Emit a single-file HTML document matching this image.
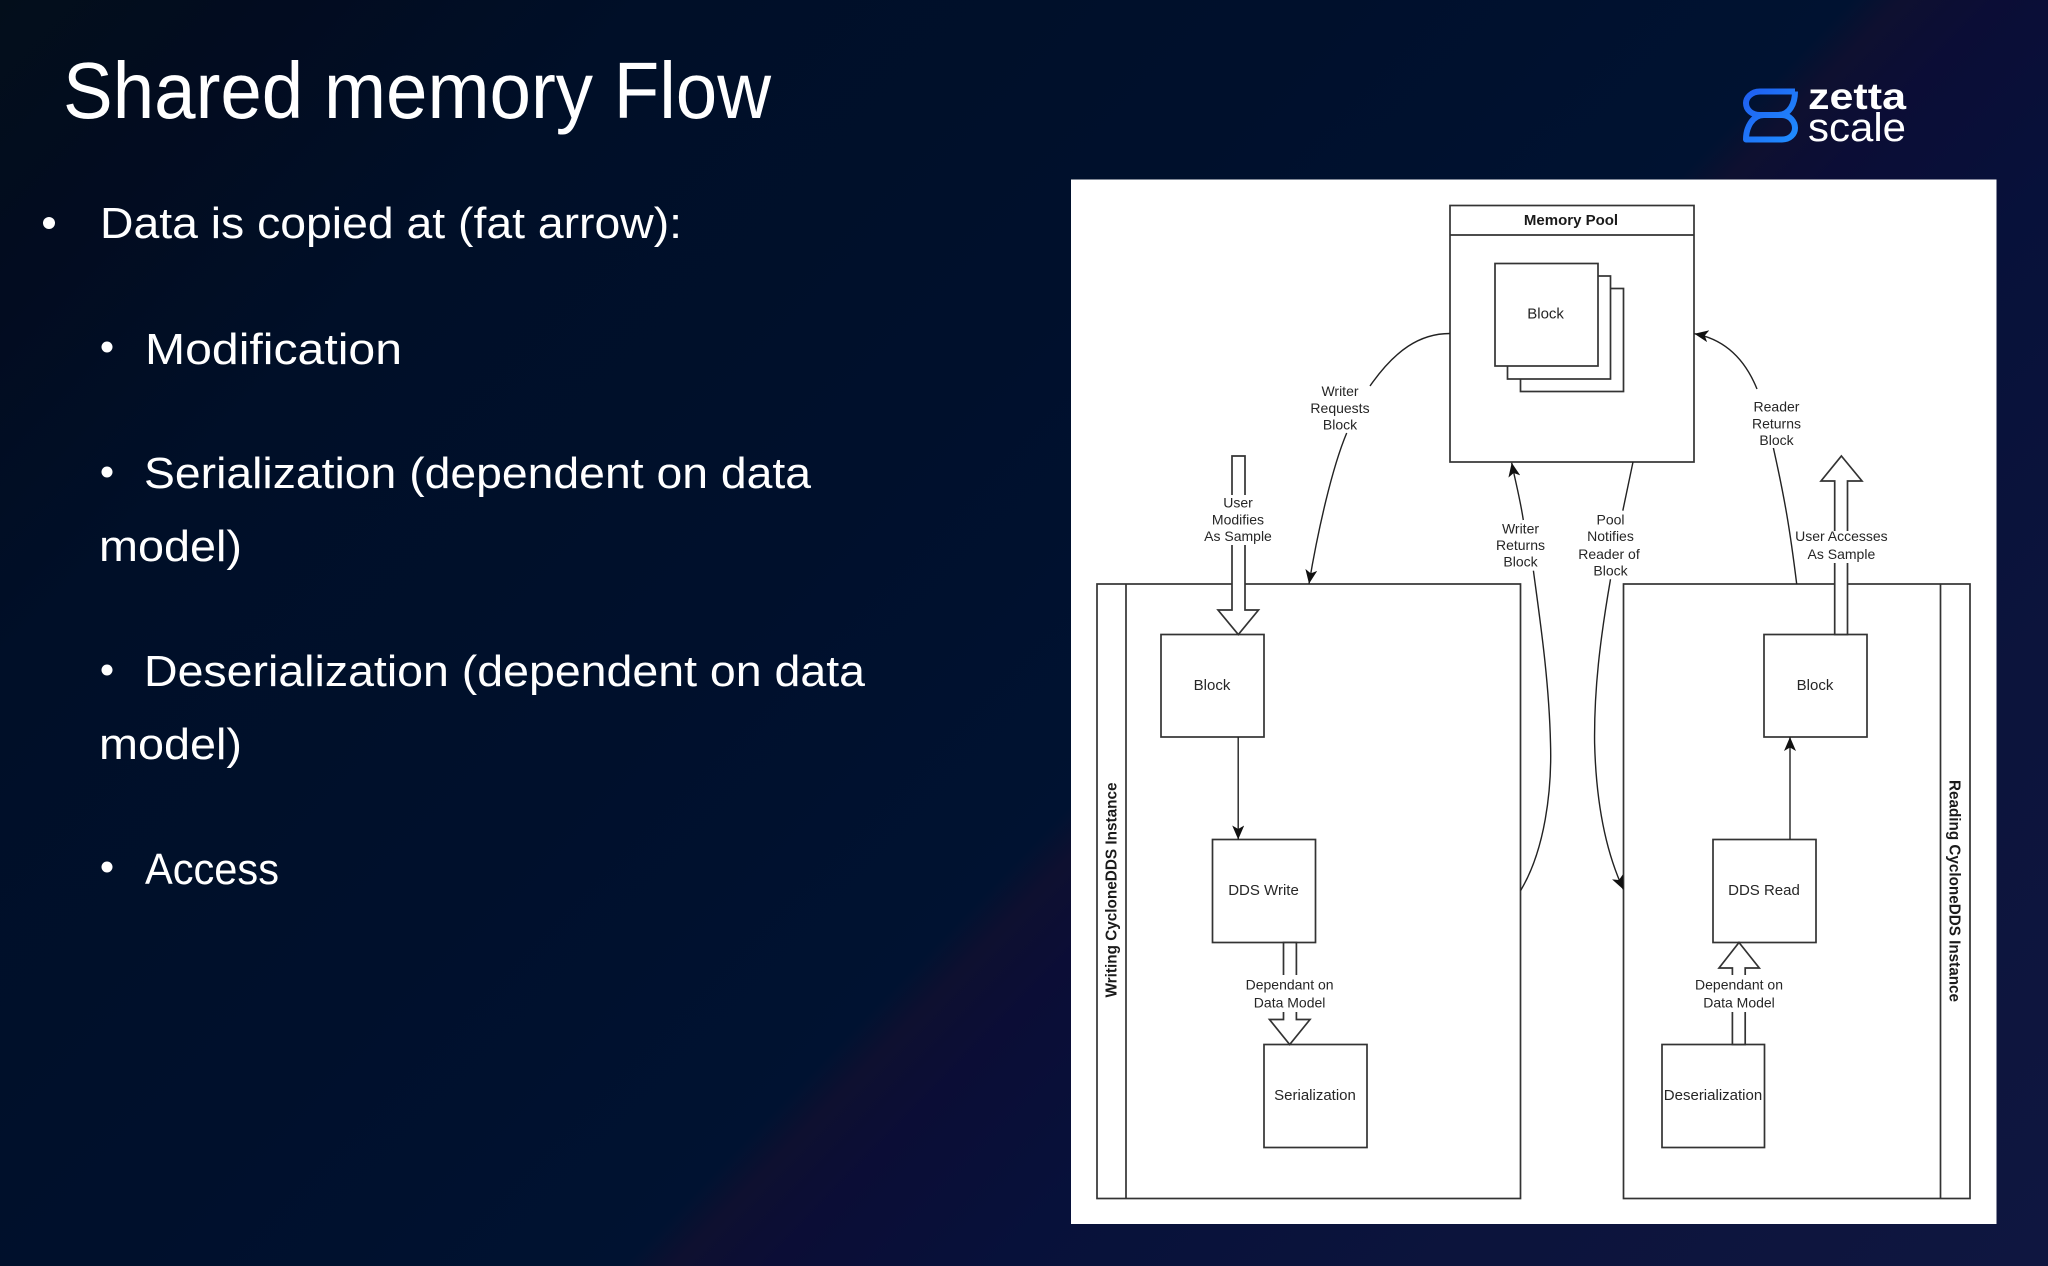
<!DOCTYPE html>
<html>
<head>
<meta charset="utf-8">
<style>
html,body{margin:0;padding:0;width:2048px;height:1266px;overflow:hidden;background:#00102a}
svg{display:block}
text{font-family:"Liberation Sans",Arial,sans-serif}
.n{font-size:15px;fill:#262626;text-anchor:middle;dominant-baseline:central}
.e{font-size:14px;fill:#262626;text-anchor:middle;dominant-baseline:central}
.b{font-size:15.4px;font-weight:bold;fill:#1a1a1a;text-anchor:middle;dominant-baseline:central}
.s{fill:#fff;stroke:#333;stroke-width:1.7}
.c{fill:none;stroke:#222;stroke-width:1.4}
.t{fill:#fff;font-size:44px}
</style>
</head>
<body>
<svg width="2048" height="1266" viewBox="0 0 2048 1266" xmlns="http://www.w3.org/2000/svg">
<defs>
<linearGradient id="bg" gradientUnits="userSpaceOnUse" x1="0" y1="0" x2="1688" y2="1638">
<stop offset="0" stop-color="#030e1b"/>
<stop offset="0.09" stop-color="#020c20"/>
<stop offset="0.2" stop-color="#000f28"/>
<stop offset="0.4" stop-color="#00102c"/>
<stop offset="0.565" stop-color="#001231"/>
<stop offset="0.58" stop-color="#0e1030"/>
<stop offset="0.61" stop-color="#0b0d36"/>
<stop offset="0.68" stop-color="#07113a"/>
<stop offset="0.82" stop-color="#0c143c"/>
<stop offset="1" stop-color="#0f1640"/>
</linearGradient>
<linearGradient id="logo" x1="0" y1="0" x2="1" y2="1">
<stop offset="0" stop-color="#1f5ff0"/>
<stop offset="1" stop-color="#1f8cff"/>
</linearGradient>
<marker id="a" viewBox="0 0 14 12" refX="14" refY="6" markerWidth="14" markerHeight="12" markerUnits="userSpaceOnUse" orient="auto">
<path d="M14,6 L0,0 L3.5,6 L0,12 Z" fill="#111"/>
</marker>
</defs>

<rect width="2048" height="1266" fill="url(#bg)"/>

<!-- Title and bullets -->
<text x="63" y="118" font-size="80" fill="#fff" textLength="708" lengthAdjust="spacingAndGlyphs">Shared memory Flow</text>

<circle cx="49" cy="223" r="6" fill="#fff"/>
<text class="t" x="100" y="238" textLength="582" lengthAdjust="spacingAndGlyphs">Data is copied at (fat arrow):</text>
<circle cx="107" cy="347" r="5.5" fill="#fff"/>
<text class="t" x="145" y="364" textLength="257" lengthAdjust="spacingAndGlyphs">Modification</text>
<circle cx="107" cy="472" r="5.5" fill="#fff"/>
<text class="t" x="144" y="488" textLength="667" lengthAdjust="spacingAndGlyphs">Serialization (dependent on data</text>
<text class="t" x="99" y="561" textLength="143" lengthAdjust="spacingAndGlyphs">model)</text>
<circle cx="107" cy="670" r="5.5" fill="#fff"/>
<text class="t" x="144" y="686" textLength="721" lengthAdjust="spacingAndGlyphs">Deserialization (dependent on data</text>
<text class="t" x="99" y="759" textLength="143" lengthAdjust="spacingAndGlyphs">model)</text>
<circle cx="107" cy="867" r="5.5" fill="#fff"/>
<text class="t" x="145" y="884" textLength="134" lengthAdjust="spacingAndGlyphs">Access</text>

<!-- Logo -->
<path d="M1795,91.5 L1760,91.5 C1751,91.5 1746,98 1746,103 C1746,110 1752,115 1760,115 L1782,115 C1790,115 1795,122 1795,128 C1795,134 1790,139.5 1782,139.5 L1746,139.5 C1746,128 1752,115 1764,115 M1778,115 C1790,115 1795,103 1795,91.5" fill="none" stroke="url(#logo)" stroke-width="6" stroke-linejoin="round"/>
<text x="1808" y="109" font-size="37" font-weight="bold" fill="#fff" textLength="98" lengthAdjust="spacingAndGlyphs">zetta</text>
<text x="1808" y="141" font-size="40" fill="#fff" textLength="98" lengthAdjust="spacingAndGlyphs">scale</text>

<!-- White panel -->
<rect x="1071" y="179.5" width="925.5" height="1044.5" fill="#fff"/>

<!-- Memory Pool -->
<rect class="s" x="1450" y="205.5" width="244" height="256.5"/>
<line class="c" x1="1450" y1="235" x2="1694" y2="235" style="stroke:#333;stroke-width:1.7"/>
<text class="b" x="1571" y="220.5" style="font-size:15px">Memory Pool</text>
<rect class="s" x="1520.5" y="288.5" width="103" height="103"/>
<rect class="s" x="1507.5" y="276" width="103" height="103"/>
<rect class="s" x="1495" y="263.5" width="103" height="102.5"/>
<text class="n" x="1545.6" y="314">Block</text>

<!-- Swimlanes -->
<rect class="s" x="1097" y="584" width="423.5" height="614.5"/>
<line class="c" x1="1126" y1="584" x2="1126" y2="1198.5" style="stroke:#333;stroke-width:1.7"/>
<rect class="s" x="1623.5" y="584" width="346.5" height="614.5"/>
<line class="c" x1="1940.5" y1="584" x2="1940.5" y2="1198.5" style="stroke:#333;stroke-width:1.7"/>
<text class="b" transform="translate(1112,890) rotate(-90)" x="0" y="0" textLength="215" lengthAdjust="spacingAndGlyphs">Writing CycloneDDS Instance</text>
<text class="b" transform="translate(1954,891) rotate(90)" x="0" y="0" textLength="222" lengthAdjust="spacingAndGlyphs">Reading CycloneDDS Instance</text>

<!-- Nodes -->
<rect class="s" x="1161" y="634.5" width="103" height="102.5"/>
<text class="n" x="1212" y="685.5">Block</text>
<rect class="s" x="1212.5" y="839.5" width="103" height="103"/>
<text class="n" x="1263.5" y="890.5">DDS Write</text>
<rect class="s" x="1264" y="1044.5" width="103" height="103"/>
<text class="n" x="1315" y="1095.5">Serialization</text>
<rect class="s" x="1764" y="634.5" width="103" height="102.5"/>
<text class="n" x="1815" y="685.5">Block</text>
<rect class="s" x="1713" y="839.5" width="103" height="103"/>
<text class="n" x="1764" y="890.5">DDS Read</text>
<rect class="s" x="1662" y="1044.5" width="102.5" height="103"/>
<text class="n" x="1713" y="1095.5">Deserialization</text>

<!-- Thin connectors -->
<line class="c" x1="1238.2" y1="737" x2="1238.2" y2="839.5" marker-end="url(#a)"/>
<line class="c" x1="1790" y1="839.5" x2="1790" y2="737" marker-end="url(#a)"/>
<path class="c" d="M1450,333.5 C1420,333.5 1395,350 1370,386"/>
<path class="c" d="M1346.7,433 C1332,468 1318,530 1309,583.7" marker-end="url(#a)"/>
<path class="c" d="M1796.7,584 C1790,530 1785,500 1773.4,448"/>
<path class="c" d="M1757,389 C1742,352 1718,338 1694.4,333.7" marker-end="url(#a)"/>
<path class="c" d="M1520.5,890.7 C1545,850 1552,790 1550.5,743 C1549,680 1540,620 1533.4,570.7"/>
<path class="c" d="M1523.3,520 C1520,498 1515,480 1511.7,462.7" marker-end="url(#a)"/>
<path class="c" d="M1633,462 L1622.8,510.7"/>
<path class="c" d="M1610.5,579.3 C1600,640 1594,690 1594.6,743 C1596,800 1605,850 1623.4,889.5" marker-end="url(#a)"/>

<!-- Fat arrows -->
<polygon class="s" points="1232,456 1245,456 1245,610 1258.5,610 1238.3,634.5 1218,610 1232,610"/>
<polygon class="s" points="1841.4,456 1862,481 1847.5,481 1847.5,634.5 1834.7,634.5 1834.7,481 1821,481"/>
<polygon class="s" points="1283.5,942.5 1296.4,942.5 1296.4,1019.5 1310,1019.5 1289.7,1044.5 1269.5,1019.5 1283.5,1019.5"/>
<polygon class="s" points="1739,942.5 1759.3,968 1745.2,968 1745.2,1044.5 1732.4,1044.5 1732.4,968 1719,968"/>

<!-- Label masks on fat arrows -->
<rect x="1228" y="495" width="21" height="50" fill="#fff"/>
<rect x="1830" y="531" width="22" height="32" fill="#fff"/>
<rect x="1279" y="975" width="22" height="37" fill="#fff"/>
<rect x="1728" y="975" width="22" height="37" fill="#fff"/>

<!-- Edge labels -->
<text class="e" x="1340" y="391">Writer</text>
<text class="e" x="1340" y="408">Requests</text>
<text class="e" x="1340" y="424.7">Block</text>

<text class="e" x="1776.5" y="406.7">Reader</text>
<text class="e" x="1776.5" y="423.3">Returns</text>
<text class="e" x="1776.5" y="440">Block</text>

<text class="e" x="1238" y="502.7">User</text>
<text class="e" x="1238" y="519.3">Modifies</text>
<text class="e" x="1238" y="536">As Sample</text>

<text class="e" x="1520.5" y="528.3">Writer</text>
<text class="e" x="1520.5" y="545">Returns</text>
<text class="e" x="1520.5" y="561.7">Block</text>

<text class="e" x="1610.5" y="519.3">Pool</text>
<text class="e" x="1610.5" y="536">Notifies</text>
<text class="e" x="1609" y="554">Reader of</text>
<text class="e" x="1610.5" y="570.7">Block</text>

<text class="e" x="1841.4" y="536">User Accesses</text>
<text class="e" x="1841.4" y="554">As Sample</text>

<text class="e" x="1289.6" y="984.4">Dependant on</text>
<text class="e" x="1289.6" y="1002.4">Data Model</text>
<text class="e" x="1739" y="984.4">Dependant on</text>
<text class="e" x="1739" y="1002.4">Data Model</text>
</svg>
</body>
</html>
